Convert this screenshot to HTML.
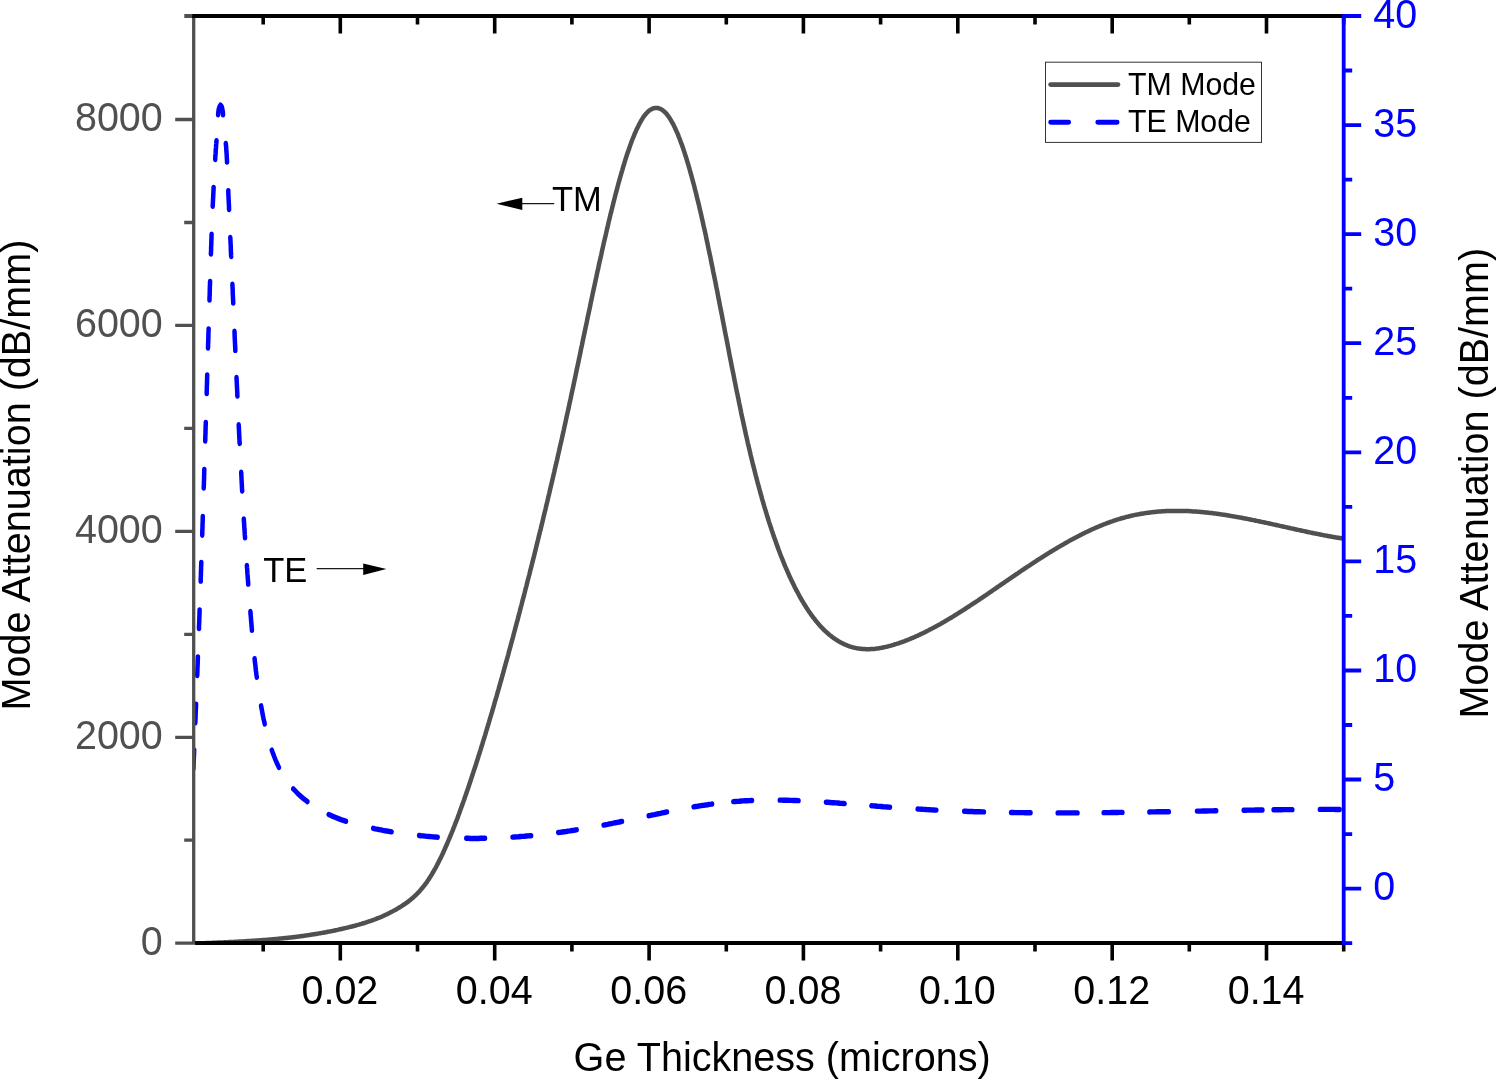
<!DOCTYPE html>
<html lang="en"><head><meta charset="utf-8"><title>Mode Attenuation vs Ge Thickness</title>
<style>html,body{margin:0;padding:0;background:#fff;overflow:hidden}body{width:1496px;height:1080px}</style>
</head><body>
<svg width="1496" height="1080" viewBox="0 0 1496 1080" style="display:block">
<rect width="1496" height="1080" fill="#fff"/>
<clipPath id="pc"><rect x="193.7" y="16.0" width="1150.0" height="927.0"/></clipPath>
<g clip-path="url(#pc)">
<path transform="scale(1 1.2)" d="M193.4 640.6L193.5 639.0L193.5 637.3L193.6 635.6L193.7 634.0L193.8 632.3L193.9 630.6L194.0 629.0L194.1 627.3L194.1 625.6L194.2 625.1M195.3 602.4L195.4 600.7L195.5 599.0L195.6 597.4L195.6 595.7L195.7 594.0L195.8 592.4L195.9 590.7L196.0 589.0L196.0 587.4L196.1 586.8M197.2 563.0L197.3 561.3L197.4 559.6L197.4 558.0L197.5 556.3L197.6 554.6L197.7 553.0L197.7 551.3L197.8 549.6L197.9 548.0L197.9 547.4M199.0 523.8L199.0 522.1L199.1 520.5L199.2 518.8L199.3 517.1L199.3 515.5L199.4 513.8L199.5 512.1L199.5 510.5L199.6 508.8L199.6 508.2M200.7 484.3L200.7 482.6L200.8 480.9L200.9 479.3L200.9 477.6L201.0 475.9L201.1 474.3L201.1 472.6L201.2 470.9L201.3 469.3L201.3 468.7M202.2 446.0L202.3 444.3L202.3 442.6L202.4 441.0L202.5 439.3L202.5 437.6L202.6 436.0L202.7 434.3L202.7 432.6L202.8 431.0L202.8 430.4M203.7 406.8L203.8 405.1L203.9 403.5L203.9 401.8L204.0 400.1L204.1 398.5L204.1 396.8L204.2 395.1L204.2 393.5L204.3 391.8L204.3 391.2M205.2 367.6L205.3 366.0L205.3 364.3L205.4 362.6L205.5 361.0L205.5 359.3L205.6 357.6L205.6 356.0L205.7 354.3L205.8 352.7L205.8 352.1M206.7 328.0L206.7 326.3L206.8 324.7L206.8 323.0L206.9 321.3L207.0 319.7L207.0 318.0L207.1 316.3L207.1 314.7L207.2 313.0L207.2 312.4M208.0 290.0L208.1 288.4L208.1 286.7L208.2 285.0L208.3 283.4L208.3 281.7L208.4 280.0L208.4 278.4L208.5 276.7L208.6 275.0L208.6 274.1M209.5 250.1L209.5 248.5L209.6 246.8L209.7 245.2L209.7 243.5L209.8 241.8L209.8 240.2L209.9 238.5L210.0 236.8L210.0 235.2L210.1 234.6M210.9 211.7L211.0 210.0L211.1 208.3L211.1 206.7L211.2 205.0L211.3 203.3L211.3 201.7L211.4 200.0L211.5 198.3L211.5 196.7L211.6 195.2M212.7 172.0L212.8 170.3L212.9 168.6L213.0 167.0L213.1 165.3L213.2 163.6L213.3 162.0L213.4 160.3L213.5 158.6L213.6 157.0L213.6 156.3M215.2 132.9L215.3 131.2L215.4 129.5L215.6 127.9L215.7 126.2L215.8 124.5L216.0 122.9L216.1 121.2L216.3 119.6L216.4 117.9L216.5 117.3M218.1 95.6L218.3 93.9L218.5 92.2L218.9 90.6L219.5 89.0L220.5 87.6L221.7 88.9L222.2 90.5L222.6 92.1L222.9 93.8L223.0 95.5L223.0 95.7M225.8 119.6L226.0 121.2L226.2 122.9L226.3 124.6L226.4 126.2L226.6 127.9L226.7 129.5L226.8 131.2L226.9 132.9L227.0 134.5L227.0 135.1M228.3 159.0L228.3 160.7L228.4 162.4L228.5 164.0L228.6 165.7L228.7 167.3L228.8 169.0L228.9 170.7L229.0 172.3L229.0 174.0L229.1 174.6M230.3 197.9L230.4 199.5L230.5 201.2L230.6 202.9L230.7 204.5L230.8 206.2L230.8 207.9L230.9 209.5L231.0 211.2L231.1 212.9L231.2 213.8M232.4 236.9L232.5 238.6L232.6 240.2L232.7 241.9L232.7 243.6L232.8 245.2L232.9 246.9L233.0 248.6L233.1 250.2L233.2 251.9L233.2 252.5M234.5 276.1L234.6 277.8L234.6 279.4L234.7 281.1L234.8 282.8L234.9 284.4L235.0 286.1L235.1 287.8L235.2 289.4L235.3 291.1L235.3 292.0M236.5 314.6L236.6 316.2L236.7 317.9L236.8 319.5L236.9 321.2L237.0 322.9L237.1 324.5L237.2 326.2L237.3 327.9L237.3 329.5L237.4 330.1M238.7 354.0L238.8 355.6L238.9 357.3L239.0 359.0L239.1 360.6L239.2 362.3L239.3 364.0L239.4 365.6L239.5 367.3L239.6 369.0L239.7 369.5M241.2 393.6L241.3 395.3L241.4 397.0L241.5 398.6L241.6 400.3L241.7 402.0L241.8 403.6L241.9 405.3L242.0 407.0L242.1 408.6L242.2 409.2M243.8 432.5L243.9 434.2L244.1 435.9L244.2 437.5L244.3 439.2L244.4 440.9L244.6 442.5L244.7 444.2L244.8 445.8L245.0 447.5L245.0 448.1M246.9 471.2L247.0 472.9L247.2 474.6L247.3 476.2L247.4 477.9L247.6 479.6L247.7 481.2L247.9 482.9L248.0 484.5L248.2 486.2L248.2 486.8M250.4 509.6L250.5 511.3L250.7 513.0L250.9 514.6L251.0 516.3L251.2 517.9L251.4 519.6L251.5 521.3L251.7 522.9L251.9 524.6L251.9 525.2M254.6 548.9L254.8 550.6L255.0 552.3L255.3 553.9L255.5 555.6L255.7 557.2L255.9 558.9L256.2 560.5L256.4 562.2L256.7 563.8L256.8 564.4M261.1 588.2L261.4 589.8L261.8 591.4L262.2 593.1L262.5 594.7L262.9 596.4L263.3 598.0L263.7 599.6L264.2 601.2L264.6 602.9L264.7 603.4M271.8 625.1L272.5 626.7L273.2 628.2L273.9 629.8L274.6 631.4L275.3 632.9L276.1 634.4L276.9 636.0L277.8 637.5L278.6 639.0L278.9 639.5M293.3 657.4L294.7 658.6L296.1 659.8L297.5 661.0L298.9 662.2L300.4 663.3L301.9 664.4L303.4 665.5L305.0 666.5L306.6 667.5L307.4 668.0M328.7 678.7L330.5 679.4L332.3 680.1L334.1 680.7L336.0 681.4L337.8 682.0L339.7 682.6L341.6 683.2L343.5 683.7L345.4 684.3L346.0 684.4M373.2 690.3L375.2 690.7L377.1 691.0L379.1 691.3L381.0 691.6L383.0 692.0L385.0 692.3L386.9 692.5L388.9 692.8L390.9 693.1L391.6 693.2M419.1 696.3L421.1 696.5L423.1 696.6L425.1 696.8L427.1 697.0L429.1 697.1L431.0 697.2L433.0 697.4L435.0 697.5L437.0 697.6L437.7 697.7M466.3 698.6L468.3 698.6L470.3 698.7L472.3 698.7L474.3 698.7L476.3 698.7L478.3 698.7L480.3 698.6L482.3 698.6L484.3 698.6L485.0 698.6M512.5 697.6L514.5 697.5L516.5 697.4L518.5 697.3L520.5 697.1L522.5 697.0L524.5 696.9L526.4 696.7L528.4 696.6L530.4 696.4L531.1 696.4M558.2 693.8L560.2 693.6L562.2 693.3L564.2 693.1L566.2 692.9L568.1 692.6L570.1 692.4L572.1 692.1L574.1 691.9L576.0 691.6L576.7 691.5M603.6 687.6L605.6 687.3L607.6 687.0L609.5 686.6L611.5 686.3L613.4 686.0L615.4 685.6L617.4 685.3L619.3 685.0L621.3 684.6L622.0 684.5M648.7 679.8L650.6 679.5L652.6 679.1L654.5 678.8L656.5 678.4L658.4 678.1L660.4 677.8L662.4 677.4L664.3 677.1L666.3 676.7L667.0 676.6M693.6 672.4L695.6 672.1L697.6 671.9L699.6 671.6L701.5 671.3L703.5 671.1L705.5 670.8L707.5 670.6L709.4 670.3L711.4 670.1L712.1 670.0M733.3 668.0L735.3 667.9L737.3 667.8L739.3 667.7L741.3 667.5L743.3 667.4L745.3 667.3L747.3 667.3L749.3 667.2L751.3 667.1L752.0 667.1M779.8 666.8L781.8 666.8L783.8 666.9L785.8 666.9L787.8 666.9L789.8 667.0L791.8 667.0L793.8 667.1L795.8 667.1L797.8 667.2L798.5 667.2M825.9 668.5L827.9 668.6L829.9 668.7L831.9 668.9L833.9 669.0L835.9 669.1L837.9 669.2L839.9 669.4L841.9 669.5L843.9 669.6L844.6 669.7M871.4 671.5L873.4 671.6L875.3 671.7L877.3 671.9L879.3 672.0L881.3 672.1L883.3 672.3L885.3 672.4L887.3 672.5L889.3 672.6L890.0 672.7M917.6 674.2L919.6 674.3L921.6 674.4L923.6 674.5L925.6 674.6L927.6 674.7L929.6 674.8L931.6 674.9L933.6 675.0L935.6 675.1L936.3 675.1M964.2 676.1L966.1 676.1L968.1 676.2L970.1 676.3L972.1 676.3L974.1 676.4L976.1 676.4L978.1 676.5L980.1 676.5L982.1 676.6L983.9 676.6M1011.1 677.1L1013.1 677.1L1015.1 677.2L1017.1 677.2L1019.1 677.2L1021.1 677.2L1023.1 677.2L1025.1 677.3L1027.1 677.3L1029.1 677.3L1030.5 677.3M1057.7 677.4L1059.7 677.4L1061.7 677.4L1063.7 677.4L1065.7 677.4L1067.7 677.4L1069.7 677.4L1071.7 677.4L1073.7 677.4L1075.7 677.4L1077.5 677.4M1103.7 677.2L1105.7 677.2L1107.7 677.2L1109.7 677.2L1111.7 677.1L1113.7 677.1L1115.7 677.1L1117.7 677.1L1119.7 677.0L1121.7 677.0L1122.4 677.0M1149.3 676.7L1151.3 676.6L1153.3 676.6L1155.3 676.6L1157.3 676.5L1159.3 676.5L1161.3 676.5L1163.3 676.5L1165.3 676.4L1167.3 676.4L1168.8 676.4M1197.0 675.9L1199.0 675.9L1201.0 675.9L1203.0 675.8L1205.0 675.8L1207.0 675.8L1209.0 675.7L1211.0 675.7L1213.0 675.7L1215.0 675.6L1216.2 675.6M1243.7 675.2L1245.7 675.2L1247.7 675.1L1249.7 675.1L1251.7 675.1L1253.7 675.1L1255.7 675.0L1257.7 675.0L1259.7 675.0L1261.7 675.0L1262.4 675.0M1273.6 674.8L1275.6 674.8L1277.6 674.8L1279.6 674.8L1281.6 674.8L1283.6 674.7L1285.6 674.7L1287.6 674.7L1289.6 674.7L1291.6 674.7L1292.3 674.7M1319.9 674.5L1321.9 674.5L1323.9 674.5L1325.9 674.5L1327.9 674.5L1329.9 674.5L1331.9 674.5L1333.9 674.5L1335.9 674.6L1337.9 674.6L1339.6 674.6" fill="none" stroke="#0000ff" stroke-width="4.5" stroke-linecap="round" stroke-linejoin="round"/>
<path d="M193.7 943.6L194.7 943.6L195.6 943.5L196.6 943.5L197.5 943.5L198.5 943.4L199.5 943.4L200.4 943.3L201.4 943.3L202.3 943.3L203.3 943.2L204.2 943.2L205.2 943.2L206.2 943.1L207.1 943.1L208.1 943.0L209.0 943.0L210.0 943.0L211.0 942.9L211.9 942.9L212.9 942.8L213.8 942.8L214.8 942.8L215.8 942.7L216.7 942.7L217.7 942.6L218.6 942.6L219.6 942.5L220.5 942.5L221.5 942.5L222.5 942.4L223.4 942.4L224.4 942.3L225.3 942.3L226.3 942.2L227.3 942.2L228.2 942.2L229.2 942.1L230.1 942.1L231.1 942.0L232.0 942.0L233.0 941.9L234.0 941.9L234.9 941.8L235.9 941.8L236.8 941.7L237.8 941.7L238.8 941.6L239.7 941.6L240.7 941.5L241.6 941.5L242.6 941.4L243.6 941.4L244.5 941.3L245.5 941.3L246.4 941.2L247.4 941.1L248.3 941.1L249.3 941.0L250.3 941.0L251.2 940.9L252.2 940.8L253.1 940.8L254.1 940.7L255.1 940.7L256.0 940.6L257.0 940.5L257.9 940.5L258.9 940.4L259.9 940.3L260.8 940.3L261.8 940.2L262.7 940.1L263.7 940.0L264.6 940.0L265.6 939.9L266.6 939.8L267.5 939.7L268.5 939.7L269.4 939.6L270.4 939.5L271.4 939.4L272.3 939.3L273.3 939.2L274.2 939.2L275.2 939.1L276.2 939.0L277.1 938.9L278.1 938.8L279.0 938.7L280.0 938.6L280.9 938.5L281.9 938.4L282.9 938.3L283.8 938.2L284.8 938.1L285.7 938.0L286.7 937.9L287.7 937.8L288.6 937.7L289.6 937.6L290.5 937.5L291.5 937.4L292.4 937.3L293.4 937.2L294.4 937.0L295.3 936.9L296.3 936.8L297.2 936.7L298.2 936.6L299.2 936.4L300.1 936.3L301.1 936.2L302.0 936.0L303.0 935.9L304.0 935.8L304.9 935.6L305.9 935.5L306.8 935.4L307.8 935.2L308.7 935.1L309.7 934.9L310.7 934.8L311.6 934.6L312.6 934.5L313.5 934.3L314.5 934.2L315.5 934.0L316.4 933.9L317.4 933.7L318.3 933.6L319.3 933.4L320.3 933.2L321.2 933.1L322.2 932.9L323.1 932.7L324.1 932.5L325.0 932.4L326.0 932.2L327.0 932.0L327.9 931.8L328.9 931.6L329.8 931.4L330.8 931.3L331.8 931.1L332.7 930.9L333.7 930.7L334.6 930.5L335.6 930.3L336.6 930.1L337.5 929.9L338.5 929.6L339.4 929.4L340.4 929.2L341.3 929.0L342.3 928.8L343.3 928.6L344.2 928.3L345.2 928.1L346.1 927.9L347.1 927.7L348.1 927.4L349.0 927.2L350.0 926.9L350.9 926.7L351.9 926.5L352.8 926.2L353.8 926.0L354.8 925.7L355.7 925.5L356.7 925.2L357.6 924.9L358.6 924.7L359.6 924.4L360.5 924.1L361.5 923.8L362.4 923.5L363.4 923.3L364.4 923.0L365.3 922.7L366.3 922.4L367.2 922.0L368.2 921.7L369.1 921.4L370.1 921.1L371.1 920.8L372.0 920.4L373.0 920.1L373.9 919.7L374.9 919.4L375.9 919.0L376.8 918.6L377.8 918.2L378.7 917.9L379.7 917.5L380.7 917.1L381.6 916.7L382.6 916.2L383.5 915.8L384.5 915.4L385.4 914.9L386.4 914.5L387.4 914.0L388.3 913.6L389.3 913.1L390.2 912.6L391.2 912.1L392.2 911.6L393.1 911.1L394.1 910.6L395.0 910.1L396.0 909.5L397.0 909.0L397.9 908.4L398.9 907.8L399.8 907.2L400.8 906.6L401.7 906.0L402.7 905.4L403.7 904.8L404.6 904.1L405.6 903.5L406.5 902.8L407.5 902.1L408.5 901.4L409.4 900.6L410.4 899.9L411.3 899.1L412.3 898.3L413.2 897.4L414.2 896.6L415.2 895.7L416.1 894.7L417.1 893.8L418.0 892.8L419.0 891.8L420.0 890.7L420.9 889.6L421.9 888.5L422.8 887.3L423.8 886.1L424.8 884.9L425.7 883.6L426.7 882.3L427.6 880.9L428.6 879.5L429.5 878.0L430.5 876.5L431.5 874.9L432.4 873.3L433.4 871.7L434.3 870.0L435.3 868.3L436.3 866.5L437.2 864.7L438.2 862.9L439.1 861.0L440.1 859.0L441.1 857.1L442.0 855.1L443.0 853.0L443.9 850.9L444.9 848.8L445.8 846.7L446.8 844.5L447.8 842.2L448.7 840.0L449.7 837.7L450.6 835.4L451.6 833.0L452.6 830.6L453.5 828.2L454.5 825.8L455.4 823.3L456.4 820.8L457.4 818.3L458.3 815.7L459.3 813.1L460.2 810.5L461.2 807.8L462.1 805.2L463.1 802.5L464.1 799.8L465.0 797.0L466.0 794.3L466.9 791.5L467.9 788.7L468.9 785.8L469.8 783.0L470.8 780.1L471.7 777.2L472.7 774.3L473.6 771.4L474.6 768.5L475.6 765.5L476.5 762.5L477.5 759.5L478.4 756.5L479.4 753.5L480.4 750.4L481.3 747.3L482.3 744.2L483.2 741.1L484.2 738.0L485.2 734.9L486.1 731.7L487.1 728.5L488.0 725.3L489.0 722.1L489.9 718.9L490.9 715.7L491.9 712.4L492.8 709.1L493.8 705.8L494.7 702.5L495.7 699.2L496.7 695.9L497.6 692.5L498.6 689.2L499.5 685.8L500.5 682.4L501.5 679.0L502.4 675.6L503.4 672.1L504.3 668.7L505.3 665.2L506.2 661.8L507.2 658.3L508.2 654.8L509.1 651.3L510.1 647.7L511.0 644.2L512.0 640.6L513.0 637.1L513.9 633.5L514.9 629.9L515.8 626.3L516.8 622.7L517.8 619.1L518.7 615.4L519.7 611.8L520.6 608.1L521.6 604.5L522.5 600.8L523.5 597.1L524.5 593.4L525.4 589.7L526.4 586.0L527.3 582.2L528.3 578.5L529.3 574.7L530.2 570.9L531.2 567.2L532.1 563.4L533.1 559.6L534.1 555.7L535.0 551.9L536.0 548.0L536.9 544.2L537.9 540.3L538.8 536.4L539.8 532.5L540.8 528.6L541.7 524.7L542.7 520.7L543.6 516.8L544.6 512.8L545.6 508.8L546.5 504.8L547.5 500.8L548.4 496.7L549.4 492.7L550.3 488.6L551.3 484.5L552.3 480.4L553.2 476.3L554.2 472.2L555.1 468.0L556.1 463.9L557.1 459.7L558.0 455.5L559.0 451.3L559.9 447.0L560.9 442.8L561.9 438.5L562.8 434.2L563.8 429.9L564.7 425.6L565.7 421.2L566.6 416.8L567.6 412.5L568.6 408.1L569.5 403.6L570.5 399.2L571.4 394.7L572.4 390.2L573.4 385.7L574.3 381.2L575.3 376.7L576.2 372.2L577.2 367.6L578.2 363.1L579.1 358.5L580.1 353.9L581.0 349.3L582.0 344.8L582.9 340.2L583.9 335.6L584.9 331.0L585.8 326.4L586.8 321.9L587.7 317.3L588.7 312.7L589.7 308.2L590.6 303.6L591.6 299.1L592.5 294.6L593.5 290.1L594.5 285.6L595.4 281.2L596.4 276.7L597.3 272.3L598.3 267.9L599.2 263.5L600.2 259.2L601.2 254.9L602.1 250.6L603.1 246.3L604.0 242.1L605.0 237.9L606.0 233.8L606.9 229.6L607.9 225.6L608.8 221.5L609.8 217.5L610.7 213.6L611.7 209.7L612.7 205.8L613.6 202.0L614.6 198.2L615.5 194.5L616.5 190.8L617.5 187.2L618.4 183.7L619.4 180.2L620.3 176.8L621.3 173.4L622.3 170.1L623.2 166.8L624.2 163.7L625.1 160.6L626.1 157.5L627.0 154.6L628.0 151.7L629.0 148.9L629.9 146.2L630.9 143.5L631.8 141.0L632.8 138.5L633.8 136.1L634.7 133.8L635.7 131.6L636.6 129.4L637.6 127.4L638.6 125.5L639.5 123.6L640.5 121.9L641.4 120.2L642.4 118.7L643.3 117.2L644.3 115.9L645.3 114.6L646.2 113.5L647.2 112.5L648.1 111.5L649.1 110.7L650.1 110.0L651.0 109.4L652.0 108.9L652.9 108.5L653.9 108.2L654.9 108.0L655.8 107.9L656.8 107.9L657.7 108.0L658.7 108.2L659.6 108.6L660.6 109.0L661.6 109.5L662.5 110.1L663.5 110.9L664.4 111.7L665.4 112.7L666.4 113.7L667.3 114.9L668.3 116.2L669.2 117.5L670.2 119.0L671.1 120.6L672.1 122.3L673.1 124.0L674.0 125.9L675.0 127.9L675.9 130.0L676.9 132.1L677.9 134.4L678.8 136.8L679.8 139.2L680.7 141.8L681.7 144.4L682.7 147.1L683.6 149.9L684.6 152.8L685.5 155.8L686.5 158.8L687.4 162.0L688.4 165.2L689.4 168.5L690.3 171.8L691.3 175.3L692.2 178.8L693.2 182.4L694.2 186.0L695.1 189.8L696.1 193.6L697.0 197.4L698.0 201.4L699.0 205.4L699.9 209.4L700.9 213.6L701.8 217.7L702.8 222.0L703.7 226.3L704.7 230.6L705.7 235.0L706.6 239.5L707.6 244.0L708.5 248.6L709.5 253.2L710.5 257.8L711.4 262.5L712.4 267.2L713.3 272.0L714.3 276.7L715.3 281.5L716.2 286.4L717.2 291.2L718.1 296.1L719.1 301.0L720.0 305.9L721.0 310.8L722.0 315.8L722.9 320.7L723.9 325.7L724.8 330.6L725.8 335.6L726.8 340.5L727.7 345.4L728.7 350.4L729.6 355.3L730.6 360.2L731.5 365.0L732.5 369.9L733.5 374.8L734.4 379.6L735.4 384.4L736.3 389.1L737.3 393.8L738.3 398.5L739.2 403.2L740.2 407.8L741.1 412.4L742.1 416.9L743.1 421.4L744.0 425.8L745.0 430.2L745.9 434.5L746.9 438.7L747.8 442.9L748.8 447.1L749.8 451.2L750.7 455.2L751.7 459.2L752.6 463.1L753.6 466.9L754.6 470.7L755.5 474.5L756.5 478.2L757.4 481.8L758.4 485.4L759.4 489.0L760.3 492.5L761.3 495.9L762.2 499.3L763.2 502.6L764.1 505.9L765.1 509.1L766.1 512.3L767.0 515.5L768.0 518.5L768.9 521.6L769.9 524.6L770.9 527.5L771.8 530.4L772.8 533.3L773.7 536.1L774.7 538.8L775.7 541.6L776.6 544.2L777.6 546.9L778.5 549.5L779.5 552.0L780.4 554.5L781.4 557.0L782.4 559.4L783.3 561.7L784.3 564.1L785.2 566.4L786.2 568.6L787.2 570.8L788.1 573.0L789.1 575.2L790.0 577.3L791.0 579.3L791.9 581.3L792.9 583.3L793.9 585.3L794.8 587.2L795.8 589.1L796.7 590.9L797.7 592.7L798.7 594.5L799.6 596.3L800.6 598.0L801.5 599.6L802.5 601.3L803.5 602.9L804.4 604.5L805.4 606.0L806.3 607.5L807.3 609.0L808.2 610.4L809.2 611.9L810.2 613.2L811.1 614.6L812.1 615.9L813.0 617.2L814.0 618.4L815.0 619.7L815.9 620.9L816.9 622.0L817.8 623.2L818.8 624.3L819.8 625.4L820.7 626.4L821.7 627.5L822.6 628.5L823.6 629.4L824.5 630.4L825.5 631.3L826.5 632.2L827.4 633.0L828.4 633.9L829.3 634.7L830.3 635.5L831.3 636.2L832.2 637.0L833.2 637.7L834.1 638.4L835.1 639.0L836.1 639.7L837.0 640.3L838.0 640.9L838.9 641.5L839.9 642.0L840.8 642.5L841.8 643.0L842.8 643.5L843.7 644.0L844.7 644.4L845.6 644.8L846.6 645.2L847.6 645.6L848.5 645.9L849.5 646.3L850.4 646.6L851.4 646.9L852.3 647.2L853.3 647.4L854.3 647.7L855.2 647.9L856.2 648.1L857.1 648.3L858.1 648.4L859.1 648.6L860.0 648.7L861.0 648.8L861.9 648.9L862.9 649.0L863.9 649.1L864.8 649.1L865.8 649.2L866.7 649.2L867.7 649.2L868.6 649.2L869.6 649.2L870.6 649.1L871.5 649.1L872.5 649.0L873.4 648.9L874.4 648.9L875.4 648.8L876.3 648.6L877.3 648.5L878.2 648.4L879.2 648.2L880.2 648.1L881.1 647.9L882.1 647.7L883.0 647.5L884.0 647.3L884.9 647.1L885.9 646.9L886.9 646.7L887.8 646.4L888.8 646.2L889.7 645.9L890.7 645.7L891.7 645.4L892.6 645.1L893.6 644.8L894.5 644.5L895.5 644.2L896.5 643.9L897.4 643.6L898.4 643.3L899.3 643.0L900.3 642.6L901.2 642.3L902.2 642.0L903.2 641.6L904.1 641.3L905.1 640.9L906.0 640.5L907.0 640.2L908.0 639.8L908.9 639.4L909.9 639.0L910.8 638.6L911.8 638.2L912.7 637.8L913.7 637.4L914.7 637.0L915.6 636.5L916.6 636.1L917.5 635.7L918.5 635.2L919.5 634.8L920.4 634.3L921.4 633.9L922.3 633.4L923.3 633.0L924.3 632.5L925.2 632.0L926.2 631.5L927.1 631.1L928.1 630.6L929.0 630.1L930.0 629.6L931.0 629.1L931.9 628.6L932.9 628.1L933.8 627.6L934.8 627.0L935.8 626.5L936.7 626.0L937.7 625.5L938.6 624.9L939.6 624.4L940.6 623.9L941.5 623.3L942.5 622.8L943.4 622.2L944.4 621.7L945.3 621.1L946.3 620.5L947.3 620.0L948.2 619.4L949.2 618.8L950.1 618.3L951.1 617.7L952.1 617.1L953.0 616.5L954.0 615.9L954.9 615.3L955.9 614.7L956.9 614.1L957.8 613.5L958.8 612.9L959.7 612.3L960.7 611.7L961.6 611.1L962.6 610.5L963.6 609.9L964.5 609.3L965.5 608.7L966.4 608.0L967.4 607.4L968.4 606.8L969.3 606.2L970.3 605.5L971.2 604.9L972.2 604.3L973.1 603.6L974.1 603.0L975.1 602.4L976.0 601.7L977.0 601.1L977.9 600.5L978.9 599.8L979.9 599.2L980.8 598.5L981.8 597.9L982.7 597.2L983.7 596.6L984.7 595.9L985.6 595.3L986.6 594.6L987.5 594.0L988.5 593.3L989.4 592.7L990.4 592.0L991.4 591.4L992.3 590.7L993.3 590.0L994.2 589.4L995.2 588.7L996.2 588.1L997.1 587.4L998.1 586.7L999.0 586.1L1000.0 585.4L1001.0 584.8L1001.9 584.1L1002.9 583.4L1003.8 582.8L1004.8 582.1L1005.7 581.5L1006.7 580.8L1007.7 580.2L1008.6 579.5L1009.6 578.8L1010.5 578.2L1011.5 577.5L1012.5 576.9L1013.4 576.2L1014.4 575.6L1015.3 574.9L1016.3 574.3L1017.3 573.6L1018.2 573.0L1019.2 572.3L1020.1 571.7L1021.1 571.0L1022.0 570.4L1023.0 569.7L1024.0 569.1L1024.9 568.4L1025.9 567.8L1026.8 567.2L1027.8 566.5L1028.8 565.9L1029.7 565.3L1030.7 564.6L1031.6 564.0L1032.6 563.4L1033.5 562.7L1034.5 562.1L1035.5 561.5L1036.4 560.9L1037.4 560.2L1038.3 559.6L1039.3 559.0L1040.3 558.4L1041.2 557.8L1042.2 557.2L1043.1 556.6L1044.1 556.0L1045.1 555.3L1046.0 554.7L1047.0 554.1L1047.9 553.5L1048.9 553.0L1049.8 552.4L1050.8 551.8L1051.8 551.2L1052.7 550.6L1053.7 550.0L1054.6 549.4L1055.6 548.9L1056.6 548.3L1057.5 547.7L1058.5 547.1L1059.4 546.6L1060.4 546.0L1061.4 545.5L1062.3 544.9L1063.3 544.4L1064.2 543.8L1065.2 543.3L1066.1 542.7L1067.1 542.2L1068.1 541.6L1069.0 541.1L1070.0 540.6L1070.9 540.0L1071.9 539.5L1072.9 539.0L1073.8 538.5L1074.8 538.0L1075.7 537.5L1076.7 537.0L1077.7 536.5L1078.6 536.0L1079.6 535.5L1080.5 535.0L1081.5 534.5L1082.4 534.0L1083.4 533.5L1084.4 533.1L1085.3 532.6L1086.3 532.1L1087.2 531.7L1088.2 531.2L1089.2 530.8L1090.1 530.3L1091.1 529.9L1092.0 529.4L1093.0 529.0L1094.0 528.6L1094.9 528.1L1095.9 527.7L1096.8 527.3L1097.8 526.9L1098.7 526.5L1099.7 526.1L1100.7 525.7L1101.6 525.3L1102.6 524.9L1103.5 524.5L1104.5 524.1L1105.5 523.8L1106.4 523.4L1107.4 523.0L1108.3 522.7L1109.3 522.3L1110.2 522.0L1111.2 521.6L1112.2 521.3L1113.1 521.0L1114.1 520.6L1115.0 520.3L1116.0 520.0L1117.0 519.7L1117.9 519.4L1118.9 519.1L1119.8 518.8L1120.8 518.5L1121.8 518.3L1122.7 518.0L1123.7 517.7L1124.6 517.5L1125.6 517.2L1126.5 516.9L1127.5 516.7L1128.5 516.5L1129.4 516.2L1130.4 516.0L1131.3 515.8L1132.3 515.6L1133.3 515.3L1134.2 515.1L1135.2 514.9L1136.1 514.7L1137.1 514.6L1138.1 514.4L1139.0 514.2L1140.0 514.0L1140.9 513.8L1141.9 513.7L1142.8 513.5L1143.8 513.4L1144.8 513.2L1145.7 513.1L1146.7 512.9L1147.6 512.8L1148.6 512.7L1149.6 512.5L1150.5 512.4L1151.5 512.3L1152.4 512.2L1153.4 512.1L1154.4 512.0L1155.3 511.9L1156.3 511.8L1157.2 511.7L1158.2 511.6L1159.1 511.5L1160.1 511.5L1161.1 511.4L1162.0 511.3L1163.0 511.3L1163.9 511.2L1164.9 511.2L1165.9 511.1L1166.8 511.1L1167.8 511.0L1168.7 511.0L1169.7 511.0L1170.6 510.9L1171.6 510.9L1172.6 510.9L1173.5 510.9L1174.5 510.9L1175.4 510.9L1176.4 510.9L1177.4 510.9L1178.3 510.9L1179.3 510.9L1180.2 510.9L1181.2 510.9L1182.2 510.9L1183.1 510.9L1184.1 511.0L1185.0 511.0L1186.0 511.0L1186.9 511.1L1187.9 511.1L1188.9 511.1L1189.8 511.2L1190.8 511.2L1191.7 511.3L1192.7 511.4L1193.7 511.4L1194.6 511.5L1195.6 511.5L1196.5 511.6L1197.5 511.7L1198.5 511.8L1199.4 511.8L1200.4 511.9L1201.3 512.0L1202.3 512.1L1203.2 512.2L1204.2 512.3L1205.2 512.4L1206.1 512.5L1207.1 512.6L1208.0 512.7L1209.0 512.8L1210.0 512.9L1210.9 513.0L1211.9 513.1L1212.8 513.2L1213.8 513.4L1214.8 513.5L1215.7 513.6L1216.7 513.7L1217.6 513.9L1218.6 514.0L1219.5 514.1L1220.5 514.3L1221.5 514.4L1222.4 514.6L1223.4 514.7L1224.3 514.8L1225.3 515.0L1226.3 515.1L1227.2 515.3L1228.2 515.5L1229.1 515.6L1230.1 515.8L1231.0 515.9L1232.0 516.1L1233.0 516.3L1233.9 516.4L1234.9 516.6L1235.8 516.8L1236.8 516.9L1237.8 517.1L1238.7 517.3L1239.7 517.4L1240.6 517.6L1241.6 517.8L1242.6 518.0L1243.5 518.2L1244.5 518.4L1245.4 518.5L1246.4 518.7L1247.3 518.9L1248.3 519.1L1249.3 519.3L1250.2 519.5L1251.2 519.7L1252.1 519.9L1253.1 520.1L1254.1 520.3L1255.0 520.5L1256.0 520.7L1256.9 520.9L1257.9 521.1L1258.9 521.3L1259.8 521.5L1260.8 521.7L1261.7 521.9L1262.7 522.1L1263.6 522.3L1264.6 522.5L1265.6 522.7L1266.5 522.9L1267.5 523.1L1268.4 523.3L1269.4 523.5L1270.4 523.7L1271.3 523.9L1272.3 524.2L1273.2 524.4L1274.2 524.6L1275.2 524.8L1276.1 525.0L1277.1 525.2L1278.0 525.4L1279.0 525.6L1279.9 525.9L1280.9 526.1L1281.9 526.3L1282.8 526.5L1283.8 526.7L1284.7 526.9L1285.7 527.1L1286.7 527.3L1287.6 527.6L1288.6 527.8L1289.5 528.0L1290.5 528.2L1291.4 528.4L1292.4 528.6L1293.4 528.8L1294.3 529.0L1295.3 529.3L1296.2 529.5L1297.2 529.7L1298.2 529.9L1299.1 530.1L1300.1 530.3L1301.0 530.5L1302.0 530.7L1303.0 530.9L1303.9 531.1L1304.9 531.3L1305.8 531.5L1306.8 531.8L1307.7 532.0L1308.7 532.2L1309.7 532.4L1310.6 532.6L1311.6 532.8L1312.5 533.0L1313.5 533.2L1314.5 533.4L1315.4 533.5L1316.4 533.7L1317.3 533.9L1318.3 534.1L1319.3 534.3L1320.2 534.5L1321.2 534.7L1322.1 534.9L1323.1 535.1L1324.0 535.3L1325.0 535.4L1326.0 535.6L1326.9 535.8L1327.9 536.0L1328.8 536.2L1329.8 536.3L1330.8 536.5L1331.7 536.7L1332.7 536.9L1333.6 537.0L1334.6 537.2L1335.6 537.4L1336.5 537.5L1337.5 537.7L1338.4 537.8L1339.4 538.0L1340.3 538.1L1341.3 538.3L1342.3 538.5L1343.2 538.6L1343.7 538.7" fill="none" stroke="#505050" stroke-width="4.5" stroke-linecap="butt" stroke-linejoin="round"/>
</g>
<path d="M193.7 16.0V944.7M193.7 943.2h-18.5M193.7 840.2h-9.5M193.7 737.3h-18.5M193.7 634.3h-9.5M193.7 531.4h-18.5M193.7 428.4h-9.5M193.7 325.4h-18.5M193.7 222.5h-9.5M193.7 119.5h-18.5" stroke="#505050" stroke-width="3.3" fill="none"/>
<path d="M192.1 16.0h-7.8" stroke="#505050" stroke-width="4" fill="none"/>
<path d="M195.1 943.0H1345.5M192.1 16.0H1343.7" stroke="#000" stroke-width="4.0" fill="none"/>
<path d="M263.2 943.0v8.5M263.2 16.0v8.5M340.3 943.0v17.5M340.3 16.0v17.5M417.5 943.0v8.5M417.5 16.0v8.5M494.7 943.0v17.5M494.7 16.0v17.5M571.9 943.0v8.5M571.9 16.0v8.5M649.1 943.0v17.5M649.1 16.0v17.5M726.3 943.0v8.5M726.3 16.0v8.5M803.4 943.0v17.5M803.4 16.0v17.5M880.6 943.0v8.5M880.6 16.0v8.5M957.8 943.0v17.5M957.8 16.0v17.5M1035.0 943.0v8.5M1035.0 16.0v8.5M1112.2 943.0v17.5M1112.2 16.0v17.5M1189.3 943.0v8.5M1189.3 16.0v8.5M1266.5 943.0v17.5M1266.5 16.0v17.5M1343.7 943.0v8.5M1343.7 16.0v8.5" stroke="#000" stroke-width="3.6" fill="none"/>
<path d="M1343.7 14.0V945.0M1343.7 943.1h8.5M1343.7 888.6h17.5M1343.7 834.1h8.5M1343.7 779.5h17.5M1343.7 725.0h8.5M1343.7 670.5h17.5M1343.7 615.9h8.5M1343.7 561.4h17.5M1343.7 506.8h8.5M1343.7 452.3h17.5M1343.7 397.8h8.5M1343.7 343.2h17.5M1343.7 288.7h8.5M1343.7 234.1h17.5M1343.7 179.6h8.5M1343.7 125.1h17.5M1343.7 70.5h8.5M1343.7 16.0h17.5" stroke="#0000ff" stroke-width="3.8" fill="none"/>
<g font-family='"Liberation Sans", Arial, sans-serif' font-size="39.5">
<text transform="translate(162.8 954.8) scale(1 1.04)" text-anchor="end" fill="#505050">0</text>
<text transform="translate(162.8 748.9) scale(1 1.04)" text-anchor="end" fill="#505050">2000</text>
<text transform="translate(162.8 543.0) scale(1 1.04)" text-anchor="end" fill="#505050">4000</text>
<text transform="translate(162.8 337.0) scale(1 1.04)" text-anchor="end" fill="#505050">6000</text>
<text transform="translate(162.8 131.1) scale(1 1.04)" text-anchor="end" fill="#505050">8000</text>
<text transform="translate(1373.3 900.4) scale(1 1.04)" text-anchor="start" fill="#0000ff">0</text>
<text transform="translate(1373.3 791.3) scale(1 1.04)" text-anchor="start" fill="#0000ff">5</text>
<text transform="translate(1373.3 682.2) scale(1 1.04)" text-anchor="start" fill="#0000ff">10</text>
<text transform="translate(1373.3 573.2) scale(1 1.04)" text-anchor="start" fill="#0000ff">15</text>
<text transform="translate(1373.3 464.1) scale(1 1.04)" text-anchor="start" fill="#0000ff">20</text>
<text transform="translate(1373.3 355.0) scale(1 1.04)" text-anchor="start" fill="#0000ff">25</text>
<text transform="translate(1373.3 245.9) scale(1 1.04)" text-anchor="start" fill="#0000ff">30</text>
<text transform="translate(1373.3 136.9) scale(1 1.04)" text-anchor="start" fill="#0000ff">35</text>
<text transform="translate(1373.3 27.8) scale(1 1.04)" text-anchor="start" fill="#0000ff">40</text>
<text transform="translate(339.9 1004.3) scale(1 1.04)" text-anchor="middle" fill="#000">0.02</text>
<text transform="translate(494.3 1004.3) scale(1 1.04)" text-anchor="middle" fill="#000">0.04</text>
<text transform="translate(648.7 1004.3) scale(1 1.04)" text-anchor="middle" fill="#000">0.06</text>
<text transform="translate(803.0 1004.3) scale(1 1.04)" text-anchor="middle" fill="#000">0.08</text>
<text transform="translate(957.4 1004.3) scale(1 1.04)" text-anchor="middle" fill="#000">0.10</text>
<text transform="translate(1111.8 1004.3) scale(1 1.04)" text-anchor="middle" fill="#000">0.12</text>
<text transform="translate(1266.1 1004.3) scale(1 1.04)" text-anchor="middle" fill="#000">0.14</text>
</g>
<g font-family='"Liberation Sans", Arial, sans-serif' font-size="39.6">
<text transform="translate(782.2 1070.5) scale(1 1.025)" text-anchor="middle" fill="#000">Ge Thickness (microns)</text>
<text transform="translate(30.4 475.0) rotate(-90) scale(1 1.025)" text-anchor="middle" fill="#000">Mode Attenuation (dB/mm)</text>
<text transform="translate(1487.9 483.2) rotate(-90) scale(1 1.025)" text-anchor="middle" fill="#000">Mode Attenuation (dB/mm)</text>
</g>
<rect x="1045.5" y="62.2" width="216" height="80.2" fill="#fff" stroke="#333" stroke-width="1"/>
<path d="M1050.7 84.6H1117.9" stroke="#505050" stroke-width="4.9" stroke-linecap="round"/>
<path d="M1050.7 122.2H1068.6M1097.8 122.2H1117.1" stroke="#0000ff" stroke-width="4.9" stroke-linecap="round"/>
<g font-family='"Liberation Sans", Arial, sans-serif' font-size="30.3">
<text transform="translate(1128.0 94.8) scale(1 1.04)" text-anchor="start" fill="#000">TM Mode</text>
<text transform="translate(1128.0 131.9) scale(1 1.04)" text-anchor="start" fill="#000">TE Mode</text>
</g>
<g font-family='"Liberation Sans", Arial, sans-serif' font-size="34.5">
<text transform="translate(552.0 211.1) scale(1 1.04)" text-anchor="start" fill="#000">TM</text>
<text transform="translate(263.3 581.9) scale(1 1.04)" text-anchor="start" fill="#000">TE</text>
</g>
<path d="M521 203.7H554.2M316.7 568.6H364" stroke="#1a1a1a" stroke-width="1.3" fill="none"/>
<path d="M496.5 203.7L522.3 197.7V209.9ZM386.4 569L363.2 563.4V575.1Z" fill="#000"/>
</svg>
</body></html>
